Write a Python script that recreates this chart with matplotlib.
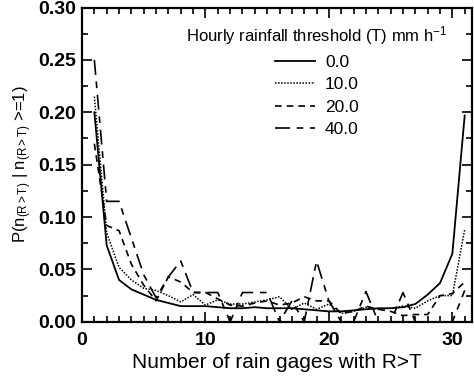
import numpy as np
import matplotlib
matplotlib.use("Agg")
import matplotlib.pyplot as plt
from matplotlib.ticker import MultipleLocator

plt.rcParams['font.family'] = ['Liberation Sans', 'DejaVu Sans']
plt.rcParams['mathtext.fontset'] = 'custom'
plt.rcParams['mathtext.rm'] = 'Liberation Sans'
plt.rcParams['mathtext.it'] = 'Liberation Sans'

n_gages = np.arange(1, 32)
p_00 = [0.200, 0.073, 0.040, 0.031, 0.026, 0.021, 0.018, 0.015, 0.015, 0.015,
        0.014, 0.013, 0.013, 0.014, 0.013, 0.013, 0.013, 0.012, 0.011, 0.010,
        0.010, 0.011, 0.012, 0.013, 0.013, 0.014, 0.017, 0.026, 0.037, 0.065,
        0.197]
p_10 = [0.215, 0.085, 0.052, 0.040, 0.032, 0.030, 0.025, 0.019, 0.026, 0.016,
        0.021, 0.017, 0.017, 0.019, 0.021, 0.024, 0.012, 0.018, 0.012, 0.017,
        0.008, 0.010, 0.014, 0.012, 0.013, 0.015, 0.013, 0.020, 0.025, 0.025,
        0.088]
p_20 = [0.170, 0.092, 0.087, 0.055, 0.035, 0.020, 0.043, 0.038, 0.028, 0.028,
        0.022, 0.016, 0.015, 0.018, 0.020, 0.016, 0.018, 0.024, 0.020, 0.020,
        0.008, 0.010, 0.015, 0.012, 0.010, 0.006, 0.007, 0.007, 0.025, 0.027,
        0.038]
p_40 = [0.250, 0.115, 0.115, 0.080, 0.045, 0.023, 0.043, 0.058, 0.028, 0.028,
        0.028, 0.000, 0.028, 0.028, 0.028, 0.000, 0.020, 0.000, 0.058, 0.020,
        0.000, 0.000, 0.029, 0.000, 0.000, 0.028, 0.000, 0.000, 0.000, 0.000,
        0.030]
labels = ['0.0', '10.0', '20.0', '40.0']

fig = plt.figure(figsize=(4.74, 3.76), dpi=100)
ax = fig.add_axes([0.173, 0.144, 0.823, 0.836])

ax.plot(n_gages, p_00, color='black', lw=1.3, ls='-', label=labels[0])
ax.plot(n_gages, p_10, color='black', lw=1.1, ls=(0, (1, 1)), label=labels[1])
ax.plot(n_gages, p_20, color='black', lw=1.2, ls=(0, (4, 3)), label=labels[2])
ax.plot(n_gages, p_40, color='black', lw=1.2, ls=(0, (9, 4, 4, 4)), label=labels[3])

ax.set_xlim(0, 31.6)
ax.set_ylim(0, 0.30)
ax.xaxis.set_major_locator(MultipleLocator(10))
ax.xaxis.set_minor_locator(MultipleLocator(1))
ax.yaxis.set_minor_locator(MultipleLocator(0.025))
ax.set_yticks(np.arange(0, 0.31, 0.05))
ax.set_yticklabels(['%.2f' % v for v in np.arange(0, 0.31, 0.05)])
ax.tick_params(which='both', direction='in', top=True, right=True, width=1.2)
ax.tick_params(which='major', length=7, labelsize=14)
ax.tick_params(axis='x', which='major', pad=7)
ax.tick_params(axis='y', which='major', pad=4)
ax.tick_params(which='minor', length=4)
for lab in ax.get_xticklabels() + ax.get_yticklabels():
    lab.set_fontweight('bold')
for s in ax.spines.values():
    s.set_linewidth(1.6)

ax.set_xlabel('Number of rain gages with R>T', fontsize=15, labelpad=3)
ax.set_ylabel(r'P(n$_{(R>T)}$ | n$_{(R>T)}$ >=1)', fontsize=12, labelpad=3)

leg = ax.legend(title=r'Hourly rainfall threshold (T) mm h$^{-1}$', loc='upper right',
                frameon=False, fontsize=12.5, title_fontsize=12, handlelength=2.3,
                handletextpad=0.6, labelspacing=0.42, borderaxespad=0.3,
                bbox_to_anchor=(0.968, 0.985))
leg._legend_box.align = 'center'

fig.savefig('out.png', dpi=100)
